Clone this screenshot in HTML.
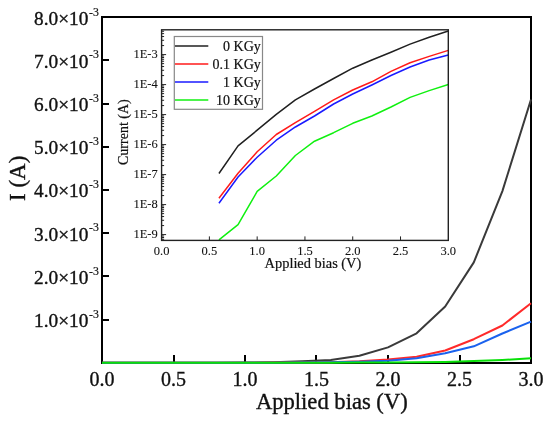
<!DOCTYPE html><html><head><meta charset="utf-8"><style>html,body{margin:0;padding:0;background:#fff;}svg{display:block;}text{font-family:"Liberation Serif","Times New Roman",serif;fill:#111;stroke:#111;stroke-width:0.35px;} text.m{stroke-width:0.2px;} text.s{stroke-width:0.08px;}</style></head><body>
<svg width="550" height="421" viewBox="0 0 550 421">
<rect width="550" height="421" fill="#fff"/>
<path d="M102,16 V363 M101,363 H532 M531,364 V16 M101,17 H532" fill="none" stroke="#000" stroke-width="2"/>
<path d="M174,363 V355 M245,363 V355 M316,363 V355 M388,363 V355 M460,363 V355 M102,320 H109 M102,276 H109 M102,233 H109 M102,190 H109 M102,147 H109 M102,104 H109 M102,60 H109" stroke="#000" stroke-width="2"/>
<path d="M102,362.7 L130.6,362.7 L159.2,362.7 L187.8,362.7 L216.4,362.66 L245,362.57 L273.6,362.26 L302.2,361.36 L330.8,359.9 L359.4,355.8 L388,347.4 L416.6,333.3 L445.2,306.5 L473.8,262.4 L502.4,191.1 L531,99.5" fill="none" stroke="#3a3a3a" stroke-width="2" stroke-linejoin="round"/>
<path d="M102,362.7 L130.6,362.7 L159.2,362.7 L187.8,362.7 L216.4,362.7 L245,362.68 L273.6,362.61 L302.2,362.47 L330.8,362.14 L359.4,361.36 L388,359.5 L416.6,356.8 L445.2,350.5 L473.8,339.2 L502.4,325.5 L531,303.2" fill="none" stroke="#ff2a2a" stroke-width="2" stroke-linejoin="round"/>
<path d="M102,362.7 L130.6,362.7 L159.2,362.7 L187.8,362.7 L216.4,362.7 L245,362.68 L273.6,362.64 L302.2,362.53 L330.8,362.31 L359.4,361.73 L388,360.7 L416.6,358.2 L445.2,353.3 L473.8,346.3 L502.4,333.5 L531,321.7" fill="none" stroke="#1a62ee" stroke-width="2" stroke-linejoin="round"/>
<path d="M102,362.7 L130.6,362.7 L159.2,362.7 L187.8,362.7 L216.4,362.7 L245,362.7 L273.6,362.7 L302.2,362.68 L330.8,362.64 L359.4,362.59 L388,362.48 L416.6,362.31 L445.2,361.93 L473.8,361.08 L502.4,359.97 L531,358.35" fill="none" stroke="#08e008" stroke-width="2" stroke-linejoin="round"/>
<text x="102" y="385.8" font-size="20" text-anchor="middle">0.0</text>
<text x="173.5" y="385.8" font-size="20" text-anchor="middle">0.5</text>
<text x="245" y="385.8" font-size="20" text-anchor="middle">1.0</text>
<text x="316.5" y="385.8" font-size="20" text-anchor="middle">1.5</text>
<text x="388" y="385.8" font-size="20" text-anchor="middle">2.0</text>
<text x="459.5" y="385.8" font-size="20" text-anchor="middle">2.5</text>
<text x="531" y="385.8" font-size="20" text-anchor="middle">3.0</text>
<text x="88.3" y="327.15" font-size="19.3" text-anchor="end">1.0×10</text>
<text x="89" y="317.75" font-size="11.8" class="m">-3</text>
<text x="88.3" y="283.9" font-size="19.3" text-anchor="end">2.0×10</text>
<text x="89" y="274.5" font-size="11.8" class="m">-3</text>
<text x="88.3" y="240.65" font-size="19.3" text-anchor="end">3.0×10</text>
<text x="89" y="231.25" font-size="11.8" class="m">-3</text>
<text x="88.3" y="197.4" font-size="19.3" text-anchor="end">4.0×10</text>
<text x="89" y="188" font-size="11.8" class="m">-3</text>
<text x="88.3" y="154.15" font-size="19.3" text-anchor="end">5.0×10</text>
<text x="89" y="144.75" font-size="11.8" class="m">-3</text>
<text x="88.3" y="110.9" font-size="19.3" text-anchor="end">6.0×10</text>
<text x="89" y="101.5" font-size="11.8" class="m">-3</text>
<text x="88.3" y="67.65" font-size="19.3" text-anchor="end">7.0×10</text>
<text x="89" y="58.25" font-size="11.8" class="m">-3</text>
<text x="88.3" y="25.2" font-size="19.3" text-anchor="end">8.0×10</text>
<text x="89" y="15.8" font-size="11.8" class="m">-3</text>
<text x="255.9" y="409" font-size="22.6">Applied bias (V)</text>
<text transform="translate(25.3,201) rotate(-90)" font-size="23">I (A)</text>
<rect x="161.6" y="29.8" width="286.70000000000005" height="210.6" fill="#fff"/>
<clipPath id="ic"><rect x="161.6" y="29.8" width="286.70000000000005" height="210.6"/></clipPath>
<g clip-path="url(#ic)">
<path d="M218.94,173.49 L238.05,145.89 L257.17,130.2 L276.28,114.3 L295.39,99.9 L314.51,89.01 L333.62,78.51 L352.73,68.19 L371.85,60 L390.96,52.29 L410.07,44.1 L429.19,37.29 L448.3,30.99" fill="none" stroke="#202020" stroke-width="1.5" stroke-linejoin="round"/>
<path d="M218.94,198.21 L238.05,173.31 L257.17,151.8 L276.28,134.49 L295.39,122.7 L314.51,111.3 L333.62,99.9 L352.73,90 L371.85,81.81 L390.96,71.4 L410.07,62.7 L429.19,56.4 L448.3,50.4" fill="none" stroke="#ff1a1a" stroke-width="1.5" stroke-linejoin="round"/>
<path d="M218.94,203.31 L238.05,177 L257.17,157.2 L276.28,140.19 L295.39,126.99 L314.51,116.01 L333.62,104.01 L352.73,93.99 L371.85,84.99 L390.96,75.51 L410.07,66.99 L429.19,60 L448.3,54.99" fill="none" stroke="#1a1aff" stroke-width="1.5" stroke-linejoin="round"/>
<path d="M218.94,239.91 L238.05,224.7 L257.17,191.4 L276.28,176.01 L295.39,155.49 L314.51,141.21 L333.62,132.69 L352.73,123.3 L371.85,116.01 L390.96,107.01 L410.07,97.41 L429.19,90.6 L448.3,84.51" fill="none" stroke="#10f010" stroke-width="1.5" stroke-linejoin="round"/>
</g>
<rect x="161.6" y="29.8" width="286.70000000000005" height="210.6" fill="none" stroke="#222" stroke-width="1.4"/>
<path d="M209.38,240.4 V236.4 M257.17,240.4 V236.4 M304.95,240.4 V236.4 M352.73,240.4 V236.4 M400.52,240.4 V236.4 M161.6,234.6 H166.1 M161.6,204.6 H166.1 M161.6,174.6 H166.1 M161.6,144.6 H166.1 M161.6,114.6 H166.1 M161.6,84.6 H166.1 M161.6,54.6 H166.1 M161.6,239.25 H164.1 M161.6,237.51 H164.1 M161.6,235.97 H164.1 M161.6,225.57 H164.1 M161.6,220.29 H164.1 M161.6,216.54 H164.1 M161.6,213.63 H164.1 M161.6,211.26 H164.1 M161.6,209.25 H164.1 M161.6,207.51 H164.1 M161.6,205.97 H164.1 M161.6,195.57 H164.1 M161.6,190.29 H164.1 M161.6,186.54 H164.1 M161.6,183.63 H164.1 M161.6,181.26 H164.1 M161.6,179.25 H164.1 M161.6,177.51 H164.1 M161.6,175.97 H164.1 M161.6,165.57 H164.1 M161.6,160.29 H164.1 M161.6,156.54 H164.1 M161.6,153.63 H164.1 M161.6,151.26 H164.1 M161.6,149.25 H164.1 M161.6,147.51 H164.1 M161.6,145.97 H164.1 M161.6,135.57 H164.1 M161.6,130.29 H164.1 M161.6,126.54 H164.1 M161.6,123.63 H164.1 M161.6,121.26 H164.1 M161.6,119.25 H164.1 M161.6,117.51 H164.1 M161.6,115.97 H164.1 M161.6,105.57 H164.1 M161.6,100.29 H164.1 M161.6,96.54 H164.1 M161.6,93.63 H164.1 M161.6,91.26 H164.1 M161.6,89.25 H164.1 M161.6,87.51 H164.1 M161.6,85.97 H164.1 M161.6,75.57 H164.1 M161.6,70.29 H164.1 M161.6,66.54 H164.1 M161.6,63.63 H164.1 M161.6,61.26 H164.1 M161.6,59.25 H164.1 M161.6,57.51 H164.1 M161.6,55.97 H164.1 M161.6,45.57 H164.1 M161.6,40.29 H164.1 M161.6,36.54 H164.1 M161.6,33.63 H164.1 M161.6,31.26 H164.1" stroke="#222" stroke-width="1"/>
<text x="161.6" y="254.6" font-size="12.5" text-anchor="middle" class="s">0.0</text>
<text x="209.38" y="254.6" font-size="12.5" text-anchor="middle" class="s">0.5</text>
<text x="257.17" y="254.6" font-size="12.5" text-anchor="middle" class="s">1.0</text>
<text x="304.95" y="254.6" font-size="12.5" text-anchor="middle" class="s">1.5</text>
<text x="352.73" y="254.6" font-size="12.5" text-anchor="middle" class="s">2.0</text>
<text x="400.52" y="254.6" font-size="12.5" text-anchor="middle" class="s">2.5</text>
<text x="448.3" y="254.6" font-size="12.5" text-anchor="middle" class="s">3.0</text>
<text x="157.8" y="238.2" font-size="12.5" text-anchor="end" class="s">1E-9</text>
<text x="157.8" y="208.2" font-size="12.5" text-anchor="end" class="s">1E-8</text>
<text x="157.8" y="178.2" font-size="12.5" text-anchor="end" class="s">1E-7</text>
<text x="157.8" y="148.2" font-size="12.5" text-anchor="end" class="s">1E-6</text>
<text x="157.8" y="118.2" font-size="12.5" text-anchor="end" class="s">1E-5</text>
<text x="157.8" y="88.2" font-size="12.5" text-anchor="end" class="s">1E-4</text>
<text x="157.8" y="58.2" font-size="12.5" text-anchor="end" class="s">1E-3</text>
<text x="264.6" y="268" font-size="14.4" class="m">Applied bias (V)</text>
<text transform="translate(128.3,165) rotate(-90)" font-size="14" class="m">Current (A)</text>
<rect x="174.3" y="36.5" width="88.2" height="72.8" fill="#fff" stroke="#888" stroke-width="1.2"/>
<path d="M175,46 H208.3" stroke="#202020" stroke-width="1.5"/>
<text x="260.8" y="51" font-size="14" text-anchor="end" class="m">0 KGy</text>
<path d="M175,64 H208.3" stroke="#ff1a1a" stroke-width="1.5"/>
<text x="260.8" y="69" font-size="14" text-anchor="end" class="m">0.1 KGy</text>
<path d="M175,82 H208.3" stroke="#1a1aff" stroke-width="1.5"/>
<text x="260.8" y="87" font-size="14" text-anchor="end" class="m">1 KGy</text>
<path d="M175,100 H208.3" stroke="#10f010" stroke-width="1.5"/>
<text x="260.8" y="105" font-size="14" text-anchor="end" class="m">10 KGy</text>
</svg></body></html>
